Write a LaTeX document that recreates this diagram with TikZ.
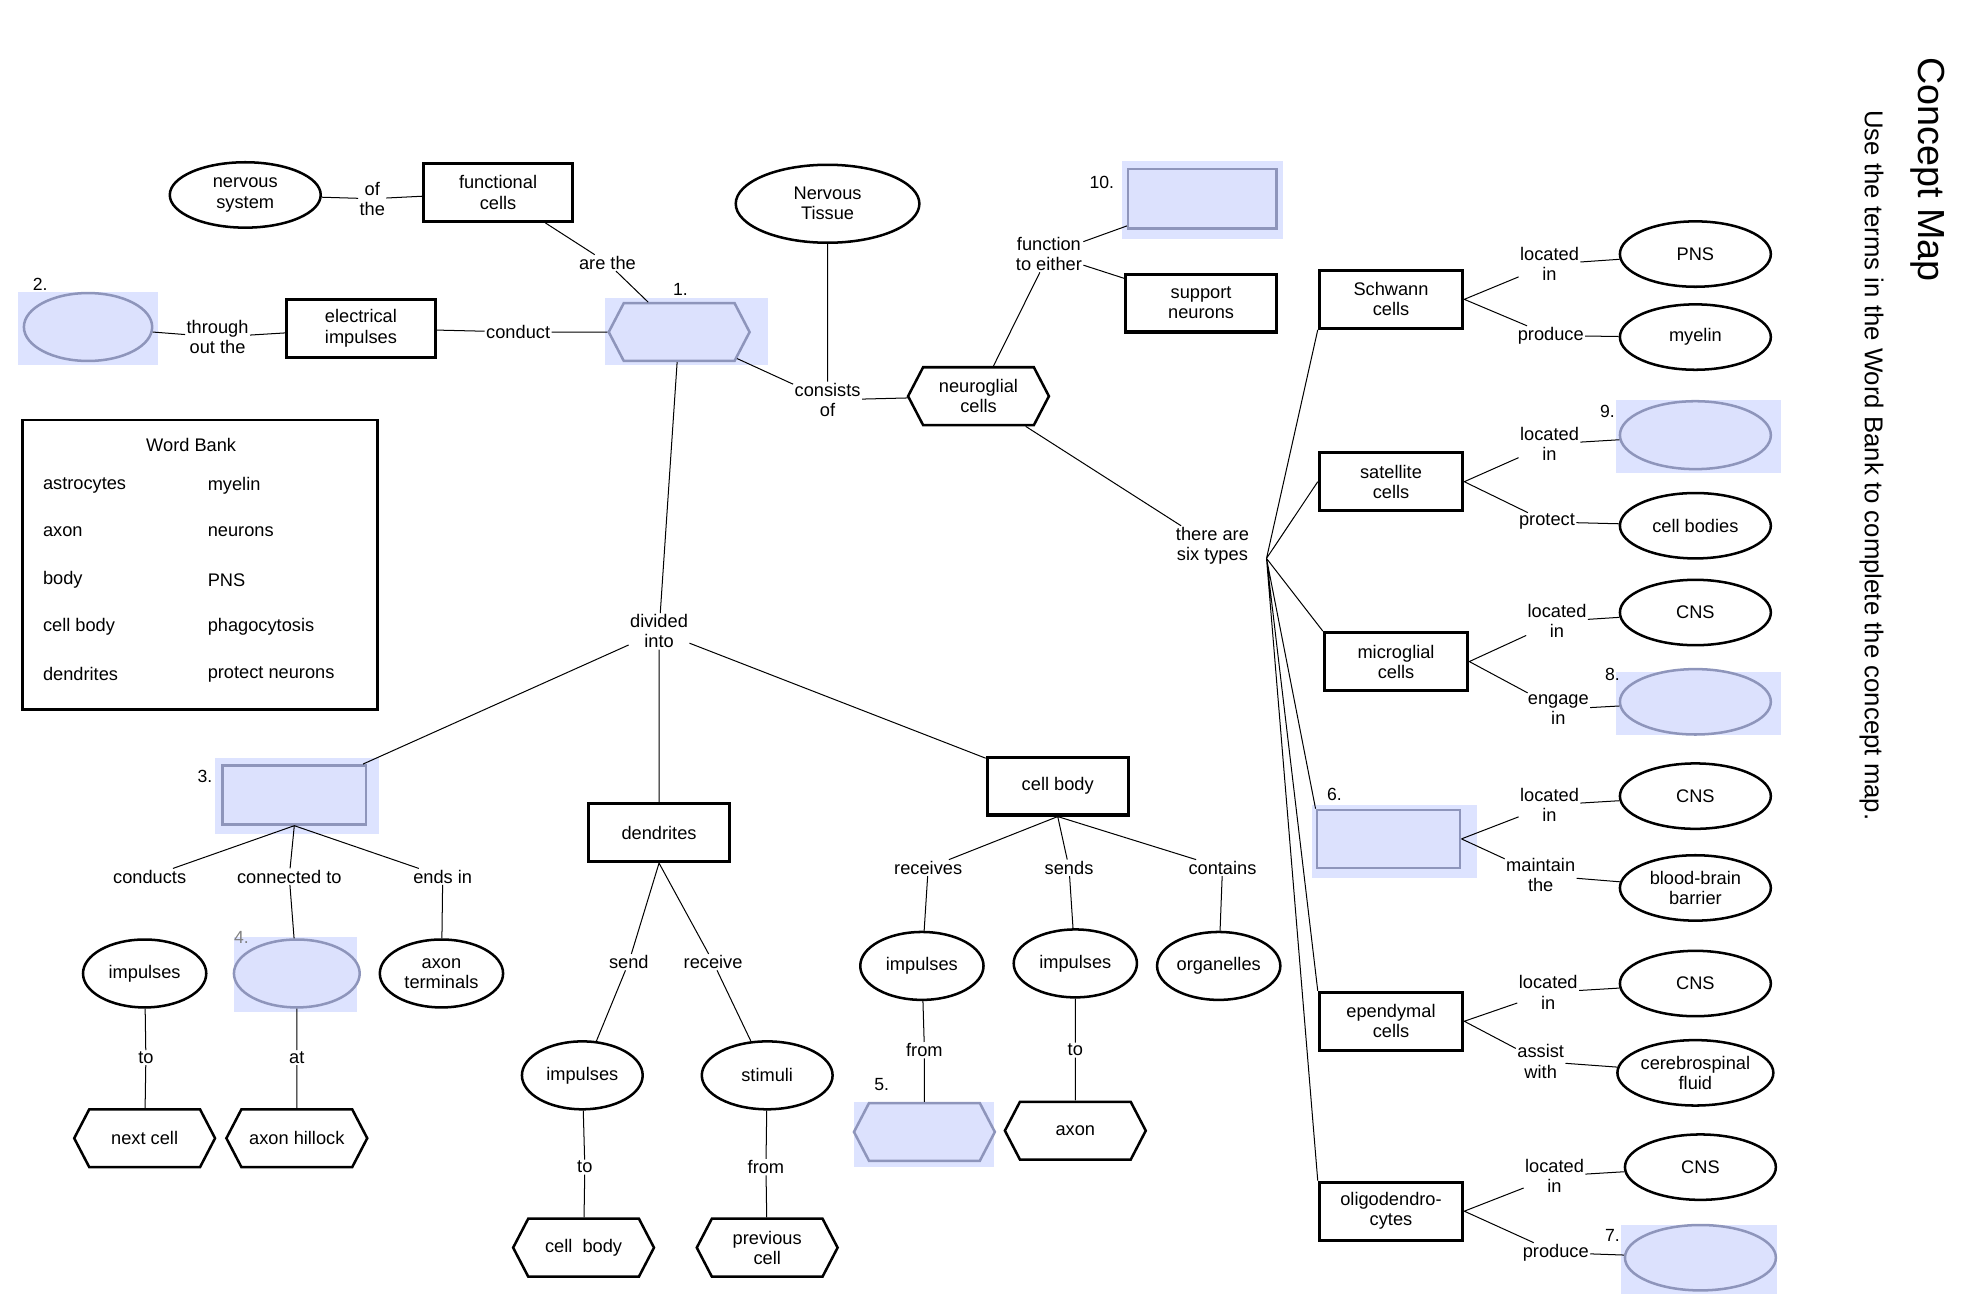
\documentclass[tikz,border=0pt]{standalone}
\usepackage{fontspec}
\setmainfont{Liberation Sans}
\usetikzlibrary{shapes.geometric,shapes.symbols}
\definecolor{bgb}{HTML}{DDE3FF}
\definecolor{inb}{HTML}{DCE1FD}
\definecolor{edb}{HTML}{8E95BB}
\begin{document}
\begin{tikzpicture}[x=1pt,y=-1pt,
 every node/.style={font=\fontsize{14.5}{16}\selectfont,align=center,inner sep=1pt},
 box/.style={draw,line width=2.5pt,minimum width=114,minimum height=46},
 ell/.style={draw,ellipse,line width=2pt,minimum width=98,minimum height=54,inner sep=0},
 hex/.style={draw,signal,signal to=west and east,signal pointer angle=125,line width=2pt,minimum width=112,minimum height=46,inner sep=0},
 bg/.style={fill=bgb},
 bell/.style={ell,fill=inb,draw=edb},
 bbox/.style={box,line width=2pt,fill=inb,draw=edb},
 bhex/.style={hex,fill=inb,draw=edb},
 c/.style={line width=0.8pt},
 num/.style={font=\fontsize{14}{16}\selectfont}]
\useasboundingbox (0,0) rectangle (1560,1034);
% background blanks
\fill[bg] (481,237) rectangle (611,290);
\fill[bg] (14,232) rectangle (126,290);
\fill[bg] (892,128) rectangle (1020,190);
\fill[bg] (171,603) rectangle (301,663);
\fill[bg] (186,745) rectangle (284,805);
\fill[bg] (679,876) rectangle (790,928);
\fill[bg] (1285,318) rectangle (1416,376);
\fill[bg] (1285,534) rectangle (1416,584);
\fill[bg] (1043,640) rectangle (1174,698);
\fill[bg] (1289,974) rectangle (1413,1029);
% top left
\node[ell,minimum width=120,minimum height=52] (ns) at (195,155) {nervous\\system};
\node (ofthe) at (296,158) {of\\the};
\node[box,minimum width=118] (fc) at (396,153) {functional\\cells};
\node[ell,minimum width=146,minimum height=62] (nt) at (658,162) {Nervous\\Tissue};
\node[bhex] (b1) at (540,264) {};
\node[num] at (541,230) {1.};
\node (are) at (483,209) {are the};
\node[bell,minimum width=102] (b2) at (70,260) {};
\node[num] at (32,226) {2.};
\node (thr) at (173,268) {through\\out the};
\node[box,minimum width=118] (ei) at (287,261) {electrical\\impulses};
\node (cond) at (412,264) {conduct};
\node (cons) at (658,318) {consists\\of};
\node[hex] (ng) at (778,315) {neuroglial\\cells};
\node (func) at (834,202) {function\\to either};
\node[bbox,minimum width=118,minimum height=47] (b10) at (956,158) {};
\node[num] at (876,145) {10.};
\node[box,minimum width=120] (sup) at (955,241) {support\\neurons};
\node (six) at (964,434) {there are\\six types};
% word bank
\draw[line width=2pt] (18,334) rectangle (300,564);
\node at (152,354) {Word Bank};
\foreach \a/\b/\y in {astrocytes/myelin/386,axon/neurons/423,body/PNS/461,cell body/phagocytosis/498,dendrites/protect neurons/536}{
 \node[anchor=west] at (33,\y) {\a};
 \node[anchor=west] at (164,\y) {\b};}
\node (div) at (524,502) {divided\\into};
% left branch
\node[bbox,minimum width=114,minimum height=47] (b3) at (234,632) {};
\node[num] at (163,617) {3.};
\node (cd) at (119,697) {conducts};
\node (ct) at (230,697) {connected to};
\node (en) at (352,697) {ends in};
\node[ell] (imp1) at (115,774) {impulses};
\node[bell,minimum width=100] (b4) at (236,774) {};
\node[num,text=gray] at (192,745) {4.};
\node[ell] (at) at (351,774) {axon\\terminals};
\node (to1) at (116,841) {to};
\node (at1) at (236,841) {at};
\node[hex] (nc) at (115,905) {next cell};
\node[hex] (ah) at (236,905) {axon hillock};
% dendrites
\node[box,minimum width=112] (den) at (524,662) {dendrites};
\node (send) at (500,765) {send};
\node (rec) at (567,765) {receive};
\node[ell,minimum width=96] (imp2) at (463,855) {impulses};
\node[ell,minimum width=104] (sti) at (610,855) {stimuli};
\node (to2) at (465,928) {to};
\node (fr2) at (609,928) {from};
\node[hex] (cbh) at (464,992) {cell\ \ body};
\node[hex] (pc) at (610,992) {previous\\cell};
% cell body
\node[box,minimum width=112] (cb) at (841,625) {cell body};
\node (rcv) at (738,690) {receives};
\node (snd) at (850,690) {sends};
\node (cnt) at (972,690) {contains};
\node[ell] (imp3) at (733,768) {impulses};
\node[ell] (imp4) at (855,766) {impulses};
\node[ell] (org) at (969,768) {organelles};
\node (fr3) at (735,835) {from};
\node (to3) at (855,835) {to};
\node[bhex] (b5) at (735,900) {};
\node[num] at (701,862) {5.};
\node[hex] (ax) at (855,899) {axon};
% right side
\node[box] (sch) at (1106,238) {Schwann\\cells};
\node (l1) at (1232,210) {located\\in};
\node (p1) at (1233,267) {produce};
\node[ell,minimum width=120,minimum height=52] (pns) at (1348,202) {PNS};
\node[ell,minimum width=120,minimum height=52] (mye) at (1348,268) {myelin};
\node[box] (sat) at (1106,383) {satellite\\cells};
\node (l2) at (1232,353) {located\\in};
\node[bell,minimum width=120] (b9) at (1348,346) {};
\node[num] at (1278,327) {9.};
\node (pr2) at (1230,415) {protect};
\node[ell,minimum width=120,minimum height=52] (cbo) at (1348,418) {cell bodies};
\node[box] (mic) at (1110,526) {microglial\\cells};
\node (l3) at (1238,494) {located\\in};
\node[ell,minimum width=120,minimum height=52] (cns3) at (1348,487) {CNS};
\node (eng) at (1239,564) {engage\\in};
\node[bell,minimum width=120,minimum height=52] (b8) at (1348,558) {};
\node[num] at (1282,536) {8.};
\node[bbox,minimum width=114,minimum height=46] (b6) at (1104,667) {};
\node[num] at (1061,632) {6.};
\node (l4) at (1232,640) {located\\in};
\node[ell,minimum width=120,minimum height=52] (cns4) at (1348,633) {CNS};
\node (mt) at (1225,696) {maintain\\the};
\node[ell,minimum width=120,minimum height=52] (bbb) at (1348,706) {blood-brain\\barrier};
\node[box] (epe) at (1106,812) {ependymal\\cells};
\node (l5) at (1231,789) {located\\in};
\node[ell,minimum width=120,minimum height=52] (cns5) at (1348,782) {CNS};
\node (as) at (1225,844) {assist\\with};
\node[ell,minimum width=124,minimum height=52] (csf) at (1348,853) {cerebrospinal\\fluid};
\node[box] (oli) at (1106,963) {oligodendro-\\cytes};
\node (l6) at (1236,935) {located\\in};
\node[ell,minimum width=120,minimum height=52] (cns6) at (1352,928) {CNS};
\node (p6) at (1237,996) {produce};
\node[bell,minimum width=120,minimum height=52] (b7) at (1352,1000) {};
\node[num] at (1282,982) {7.};
% title
\node[rotate=-90,font=\fontsize{30}{32}\selectfont] at (1533,135) {Concept Map};
\node[rotate=-90,font=\fontsize{20.5}{22}\selectfont] at (1488,370) {Use the terms in the Word Bank to complete the concept map.};
% connectors
\draw[c] (ns)--(ofthe) (ofthe)--(fc) (fc)--(are) (are)--(b1);
\draw[c] (b2)--(thr) (thr)--(ei) (ei)--(cond) (cond)--(b1);
\draw[c] (b1)--(cons) (cons)--(ng) (nt)--(cons);
\draw[c] (ng)--(func) (func)--(b10) (func)--(sup) (ng)--(six);
\draw[c] (b1)--(div) (div)--(b3) (div)--(den) (div)--(cb);
\draw[c] (b3.south)--(cd) (b3.south)--(ct) (b3.south)--(en);
\draw[c] (ct)--(b4) (en)--(at) (imp1)--(to1) (to1)--(nc) (b4)--(at1) (at1)--(ah);
\draw[c] (den.south)--(send) (den.south)--(rec) (send)--(imp2) (rec)--(sti);
\draw[c] (imp2)--(to2) (to2)--(cbh) (sti)--(fr2) (fr2)--(pc);
\draw[c] (cb.south)--(rcv) (cb.south)--(snd) (cb.south)--(cnt);
\draw[c] (rcv)--(imp3) (snd)--(imp4) (cnt)--(org) (imp3)--(fr3) (fr3)--(b5) (imp4)--(to3) (to3)--(ax);
\coordinate (s6) at (1007,444);
\draw[c] (s6)--(sch.south west) (s6)--(sat.west) (s6)--(mic.north west) (s6)--(b6.north west) (s6)--(epe.north west) (s6)--(oli.north west);
\foreach \bx/\la/\lb/\ea/\eb in {sch/l1/p1/pns/mye,sat/l2/pr2/b9/cbo,mic/l3/eng/cns3/b8,b6/l4/mt/cns4/bbb,epe/l5/as/cns5/csf,oli/l6/p6/cns6/b7}{
 \draw[c] (\bx.east)--(\la) (\bx.east)--(\lb) (\la)--(\ea) (\lb)--(\eb);}
\end{tikzpicture}
\end{document}
